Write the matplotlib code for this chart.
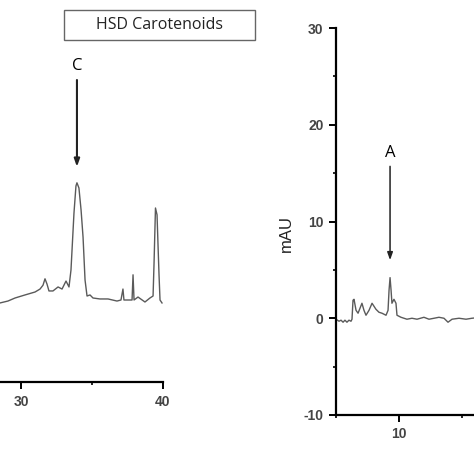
import matplotlib
matplotlib.use("Agg")
import matplotlib.pyplot as plt
from matplotlib.patches import Rectangle
from matplotlib.ticker import MultipleLocator

plt.rcParams["axes.unicode_minus"] = False

# ---- data ----
left_time = [28.52, 29.08, 29.58, 30.28, 30.99, 31.34, 31.55, 31.69, 31.83, 31.97,
             32.25, 32.61, 32.89, 33.17, 33.38, 33.52, 33.73, 33.87, 33.94, 34.08,
             34.23, 34.37, 34.51, 34.65, 34.86, 35.07, 35.56, 36.13, 36.76, 37.04,
             37.18, 37.25, 37.54, 37.82, 37.89, 37.96, 38.24, 38.73, 39.08, 39.30,
             39.37, 39.47, 39.58, 39.65, 39.72, 39.79, 39.93]
left_signal = [-0.12, 0.12, 0.50, 0.88, 1.25, 1.62, 2.10, 2.90, 2.25, 1.38,
               1.38, 1.88, 1.62, 2.62, 1.88, 4.00, 11.1, 14.5, 14.9, 14.25,
               11.5, 8.1, 2.75, 0.75, 0.88, 0.50, 0.38, 0.38, 0.12, 0.25,
               1.62, 0.25, 0.25, 0.25, 3.40, 0.25, 0.62, 0.00, 0.50, 0.75,
               4.90, 11.75, 10.9, 7.1, 3.4, 0.25, -0.12]

right_time = [5.00, 5.24, 5.40, 5.56, 5.71, 5.87, 6.03, 6.19, 6.27, 6.35,
              6.43, 6.59, 6.75, 7.06, 7.22, 7.38, 7.62, 7.86, 8.17, 8.41,
              8.65, 8.97, 9.13, 9.21, 9.29, 9.37, 9.44, 9.60, 9.76, 9.84,
              10.16, 10.63, 11.03, 11.43, 11.98, 12.38, 12.78, 13.17, 13.57, 13.89,
              14.21, 14.76, 15.32, 15.79, 16.50, 17.50, 18.50]
right_signal = [-0.10, -0.31, -0.20, -0.41, -0.20, -0.41, -0.20, -0.31, -0.10, 1.86,
                1.96, 0.82, 0.52, 1.55, 0.82, 0.31, 0.82, 1.55, 0.93, 0.62,
                0.52, 0.31, 0.82, 2.90, 4.20, 2.90, 1.55, 1.96, 1.55, 0.31,
                0.10, -0.10, 0.00, -0.10, 0.10, -0.10, 0.00, 0.10, 0.00, -0.41,
                -0.10, 0.00, -0.10, 0.00, 0.10, -0.05, 0.05]

left_xticks = [30, 40]
right_xticks = [10]
right_yticks = [-10, 0, 10, 20, 30]
title_text = "HSD Carotenoids"
ylabel_text = "mAU"
peak_left = ("C", 33.94)
peak_right = ("A", 9.29)

W = H = 474
fig = plt.figure(figsize=(4.74, 4.74), dpi=100)

def ax_rect(left_px, top_px, right_px, bottom_px):
    return [left_px / W, 1 - bottom_px / H, (right_px - left_px) / W, (bottom_px - top_px) / H]

trace_color = "#5a5a5a"
tick_color = "#444444"

def style(ax):
    for s in ("top", "right"):
        ax.spines[s].set_visible(False)
    for s in ("left", "bottom"):
        ax.spines[s].set_linewidth(1.6)
        ax.spines[s].set_color("black")
    ax.tick_params(which="major", direction="out", length=5, width=1.4,
                   labelsize=10, labelcolor=tick_color, pad=4)
    ax.tick_params(which="minor", direction="out", length=2.5, width=1.2)
    for lab in ax.get_xticklabels() + ax.get_yticklabels():
        lab.set_family("Liberation Sans")
        lab.set_fontweight("bold")

# Left panel (partially visible)
axL = fig.add_axes(ax_rect(-334, 62, 163, 382))
axL.plot(left_time, left_signal, color=trace_color, lw=1.0)
axL.set_xlim(5, 40)
axL.set_ylim(-10, 30)
axL.set_xticks(left_xticks)
axL.xaxis.set_minor_locator(MultipleLocator(5))
axL.set_yticks([])
style(axL)
axL.annotate("", xy=(peak_left[1], 16.9), xytext=(peak_left[1], 27.75),
             arrowprops=dict(arrowstyle="-|>,head_length=0.45,head_width=0.16",
                             color="#222222", lw=1.5, shrinkA=0, shrinkB=0))
axL.text(peak_left[1], 29.5, peak_left[0], ha="center", va="center",
         fontsize=12, family="Open Sans", color="black")

# Right panel
axR = fig.add_axes(ax_rect(336, 28, 336 + 315, 415))
axR.plot(right_time, right_signal, color=trace_color, lw=1.0)
axR.set_xlim(5, 30)
axR.set_ylim(-10, 30)
axR.set_xticks(right_xticks)
axR.set_yticks(right_yticks)
axR.xaxis.set_minor_locator(MultipleLocator(5))
axR.yaxis.set_minor_locator(MultipleLocator(5))
style(axR)
axR.set_ylabel(ylabel_text, fontsize=12, family="Liberation Sans", color="#222222")
axR.yaxis.set_label_coords(-0.133, 0.47)
axR.annotate("", xy=(peak_right[1], 6.0), xytext=(peak_right[1], 15.7),
             arrowprops=dict(arrowstyle="-|>,head_length=0.45,head_width=0.16",
                             color="#222222", lw=1.1, shrinkA=0, shrinkB=0))
axR.text(peak_right[1], 17.1, peak_right[0], ha="center", va="center",
         fontsize=12, family="Open Sans", color="black")

# Title box
fig.patches.append(Rectangle((64 / W, 1 - 40 / H), (255 - 64) / W, 30 / H,
                             transform=fig.transFigure, fill=False,
                             edgecolor="#666666", lw=1.0))
fig.text(159.5 / W, 1 - 25 / H, title_text, ha="center", va="center",
         fontsize=11.5, family="Open Sans", color="#222222")

fig.savefig("out.png", dpi=100)
